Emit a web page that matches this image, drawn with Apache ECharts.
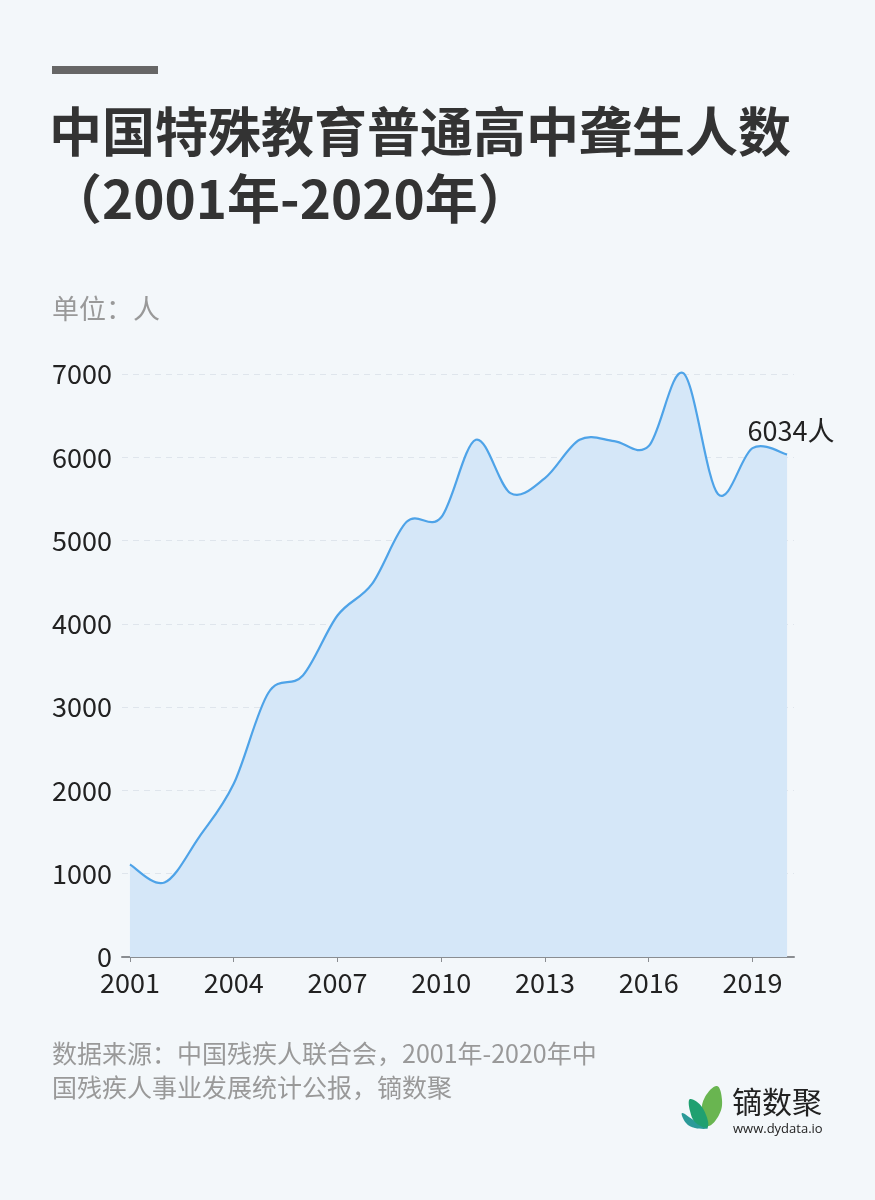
<!DOCTYPE html>
<html>
<head>
<meta charset="utf-8">
<script src="https://cdn.jsdelivr.net/npm/echarts@6/dist/echarts.min.js"></script>
<style>
html,body{margin:0;padding:0;background:#f3f7fa;}
#chart{width:875px;height:1200px;}
</style>
</head>
<body>
<div id="chart"></div>
<script>
var years = [2001,2002,2003,2004,2005,2006,2007,2008,2009,2010,2011,2012,2013,2014,2015,2016,2017,2018,2019,2020];
var values = [1110,895,1440,2080,3170,3380,4100,4480,5225,5280,6210,5570,5750,6210,6195,6135,7010,5560,6110,6034];
var tickYears = [2001,2004,2007,2010,2013,2016,2019];
var titleLines = ['中国特殊教育普通高中聋生人数','（2001年-2020年）'];
var unitText = '单位：人';
var sourceLines = ['数据来源：中国残疾人联合会，2001年-2020年中','国残疾人事业发展统计公报，镝数聚'];
var endLabel = '6034人';

var FONT = '"Noto Sans CJK SC","Noto Sans",sans-serif';
var chart = echarts.init(document.getElementById('chart'));
var seriesData = years.map(function(y,i){return [y, values[i]];});

function renderCurve(params, api){
  if (params.dataIndex !== 0) return null;
  var n = years.length;
  var pts = [];
  for (var i=0;i<n;i++){ pts.push(api.coord([years[i], values[i]])); }
  var base = api.coord([years[0], 0])[1];
  var d = 'M' + pts[0][0] + ' ' + pts[0][1];
  for (var j=0;j<n-1;j++){
    var p0 = pts[Math.max(j-1,0)], p1 = pts[j], p2 = pts[j+1], p3 = pts[Math.min(j+2,n-1)];
    var c1x = p1[0] + (p2[0]-p0[0])/6, c1y = p1[1] + (p2[1]-p0[1])/6;
    var c2x = p2[0] - (p3[0]-p1[0])/6, c2y = p2[1] - (p3[1]-p1[1])/6;
    d += ' C' + c1x + ' ' + c1y + ' ' + c2x + ' ' + c2y + ' ' + p2[0] + ' ' + p2[1];
  }
  var last = pts[n-1];
  var area = d + ' L' + last[0] + ' ' + base + ' L' + pts[0][0] + ' ' + base + ' Z';
  return {
    type:'group',
    children:[
      {type:'path', shape:{pathData:area}, style:{fill:'#d5e7f8', stroke:null}},
      {type:'path', shape:{pathData:d}, style:{fill:null, stroke:'#4ea3e8', lineWidth:2.2}},
      {type:'text', x:last[0]+4, y:last[1]-24, style:{text:endLabel, font:'27px '+FONT, fill:'#222', align:'center', verticalAlign:'middle'}}
    ]
  };
}

chart.setOption({
  backgroundColor:'#f3f7fa',
  animation:false,
  grid:{left:122,right:81,top:374,bottom:243,containLabel:false},
  xAxis:{
    type:'value', min:2000.77, max:2020.2,
    axisLine:{show:true,lineStyle:{color:'#8a8d91',width:2}},
    axisTick:{show:true,length:5,customValues:tickYears,lineStyle:{color:'#8a8d91',width:1}},
    axisLabel:{customValues:tickYears,fontSize:27,color:'#222',fontFamily:FONT,margin:12,formatter:function(v){return String(v);}},
    splitLine:{show:false}
  },
  yAxis:{
    type:'value', min:0, max:7000, interval:1000,
    axisLine:{show:false}, axisTick:{show:false},
    axisLabel:{fontSize:27,color:'#222',fontFamily:FONT,margin:10,formatter:function(v){return String(v);}},
    splitLine:{show:true,lineStyle:{color:'#dfe5ec',type:[6,5],width:1}}
  },
  series:[{
    type:'custom', coordinateSystem:'cartesian2d', clip:false,
    data:seriesData, renderItem:renderCurve,
    encode:{x:0,y:1}, z:3
  }],
  graphic:[
    {type:'rect',left:52,top:66,shape:{width:106,height:8},style:{fill:'#666'}},
    {type:'text',left:49,top:105,style:{text:titleLines[0],font:'bold 53px '+FONT,fill:'#333'}},
    {type:'text',left:49,top:172,style:{text:titleLines[1],font:'bold 53px '+FONT,fill:'#333'}},
    {type:'text',left:52,top:295,style:{text:unitText,font:'27px '+FONT,fill:'#999'}},
    {type:'text',left:52,top:1041,style:{text:sourceLines[0],font:'25px '+FONT,fill:'#999'}},
    {type:'text',left:52,top:1075,style:{text:sourceLines[1],font:'25px '+FONT,fill:'#999'}},
    {type:'polygon',shape:{points:[[717,1086],[722,1100],[719,1115],[708,1126],[702,1112],[705,1097]],smooth:0.4},style:{fill:'#69b550'}},
    {type:'polygon',shape:{points:[[682,1113],[695,1121],[708,1128],[695,1128],[686,1123]],smooth:0.4},style:{fill:'#2b9a98'}},
    {type:'polygon',shape:{points:[[690,1099],[702,1107],[708,1127],[696,1123],[690,1111]],smooth:0.4},style:{fill:'#1fa070'}},
    {type:'text',left:732,top:1087,style:{text:'镝数聚',font:'30px '+FONT,fill:'#222'}},
    {type:'text',left:733,top:1123,style:{text:'www.dydata.io',font:'13px "Open Sans",sans-serif',fill:'#222'}}
  ]
});
</script>
</body>
</html>
